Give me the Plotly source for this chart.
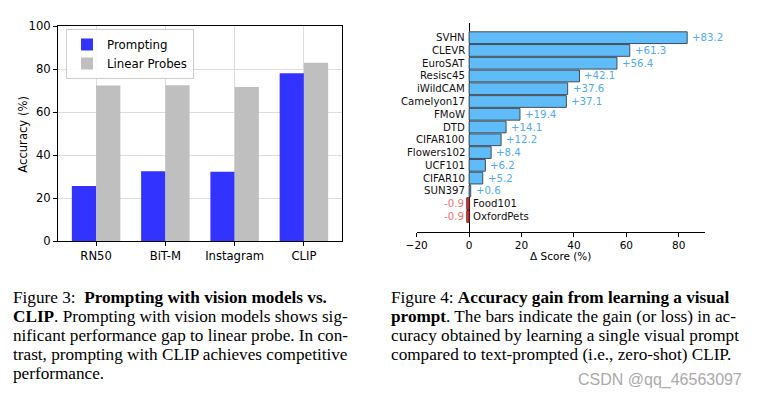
import plotly.graph_objects as go

# ---------------- data ----------------
models = ["RN50", "BiT-M", "Instagram", "CLIP"]
prompting = [25.6, 32.4, 32.2, 78.0]
linear_probes = [72.3, 72.4, 71.6, 82.9]

datasets = ["SVHN", "CLEVR", "EuroSAT", "Resisc45", "iWildCAM", "Camelyon17", "FMoW",
            "DTD", "CIFAR100", "Flowers102", "UCF101", "CIFAR10", "SUN397",
            "Food101", "OxfordPets"]
gains = [83.2, 61.3, 56.4, 42.1, 37.6, 37.1, 19.4, 14.1, 12.2, 8.4, 6.2, 5.2, 0.6, -0.9, -0.9]

left_tick_vals = [0, 20, 40, 60, 80, 100]
right_tick_vals = [-20, 0, 20, 40, 60, 80]

caption_left = [
    "Figure 3:  <b>Prompting with vision models vs.</b>",
    "<b>CLIP</b>. Prompting with vision models shows sig-",
    "nificant performance gap to linear probe. In con-",
    "trast, prompting with CLIP achieves competitive",
    "performance.",
]
caption_right = [
    "Figure 4: <b>Accuracy gain from learning a visual</b>",
    "<b>prompt</b>. The bars indicate the gain (or loss) in ac-",
    "curacy obtained by learning a single visual prompt",
    "compared to text-prompted (i.e., zero-shot) CLIP.",
]
watermark = "CSDN @qq_46563097"

# page body has an 8px default margin: the figure is drawn inside it
OFF = 8
W, H = 760 - 2 * OFF, 399 - 2 * OFF
SANS = "DejaVu Sans"
SERIF = "Liberation Serif"


def px(x):
    return (x - OFF) / W


def py(y):
    return 1 - (y - OFF) / H


fig = go.Figure()

# ---------------- left chart ----------------
xpos = list(range(len(models)))
fig.add_trace(go.Bar(x=xpos, y=prompting, name="Prompting", marker_color="#3333ff",
                     marker_line_width=0, xaxis="x", yaxis="y", offsetgroup="a"))
fig.add_trace(go.Bar(x=xpos, y=linear_probes, name="Linear Probes", marker_color="#bfbfbf",
                     marker_line_width=0, xaxis="x", yaxis="y", offsetgroup="b"))

# ---------------- right chart ----------------
n = len(datasets)
ypos = [n - 1 - i for i in range(n)]
fills = ["#60bcf8" if g >= 0 else "#e03a3a" for g in gains]
edges = ["#3e4c5a" if g >= 0 else "#7a2020" for g in gains]
fig.add_trace(go.Bar(x=gains, y=ypos, orientation="h", width=0.92,
                     marker=dict(color=fills, line=dict(color=edges, width=1)),
                     xaxis="x2", yaxis="y2", showlegend=False))

LBL = 10.2
annotations = []
for name, g, y in zip(datasets, gains, ypos):
    if g >= 0:
        annotations.append(dict(x=0, y=y, xref="x2", yref="y2", text=name, showarrow=False,
                                xanchor="right", yanchor="middle", xshift=-2,
                                font=dict(family=SANS, size=LBL, color="#111")))
        annotations.append(dict(x=g, y=y, xref="x2", yref="y2", text=f"+{g}", showarrow=False,
                                xanchor="left", yanchor="middle", xshift=3,
                                font=dict(family=SANS, size=LBL, color="#4fa9f5")))
    else:
        annotations.append(dict(x=0, y=y, xref="x2", yref="y2", text=name, showarrow=False,
                                xanchor="left", yanchor="middle", xshift=2,
                                font=dict(family=SANS, size=LBL, color="#111")))
        annotations.append(dict(x=g, y=y, xref="x2", yref="y2", text=f"{g}", showarrow=False,
                                xanchor="right", yanchor="middle", xshift=-1,
                                font=dict(family=SANS, size=LBL, color="#f07070")))

# axis titles
annotations.append(dict(x=px(22.7), y=py(134), xref="paper", yref="paper", text="Accuracy (%)",
                        showarrow=False, textangle=-90, xanchor="center", yanchor="middle",
                        font=dict(family=SANS, size=11.6, color="black")))
annotations.append(dict(x=px(560), y=py(256), xref="paper", yref="paper", text="Δ Score (%)",
                        showarrow=False, xanchor="center", yanchor="middle",
                        font=dict(family=SANS, size=10.5, color="black")))

# captions
line_y = [297, 316, 335, 354, 373]
for t, yy in zip(caption_left, line_y):
    annotations.append(dict(x=px(11), y=py(yy), xref="paper", yref="paper", text=t,
                            showarrow=False, xanchor="left", yanchor="middle",
                            font=dict(family=SERIF, size=17.2, color="black")))
for t, yy in zip(caption_right, line_y):
    annotations.append(dict(x=px(389), y=py(yy), xref="paper", yref="paper", text=t,
                            showarrow=False, xanchor="left", yanchor="middle",
                            font=dict(family=SERIF, size=17.2, color="black")))
annotations.append(dict(x=px(744), y=py(380), xref="paper", yref="paper", text=watermark,
                        showarrow=False, xanchor="right", yanchor="middle",
                        font=dict(family="Liberation Sans", size=16, color="#aaaaaa")))

fig.update_layout(
    width=W, height=H,
    margin=dict(l=0, r=0, t=0, b=0, autoexpand=False),
    paper_bgcolor="white", plot_bgcolor="white",
    barmode="group", bargap=0.3, bargroupgap=0,
    font=dict(family=SANS, size=12, color="black"),
    showlegend=True,
    legend=dict(x=px(66), y=py(29), xanchor="left", yanchor="top",
                bgcolor="rgba(255,255,255,0.9)", bordercolor="#cccccc", borderwidth=1,
                font=dict(family=SANS, size=11.8), itemwidth=30, tracegroupgap=0),
    xaxis=dict(domain=[px(58), px(342)], range=[-0.55, 3.55], tickvals=xpos, ticktext=models,
               showgrid=True, gridcolor="#dcdcdc", gridwidth=1, zeroline=False,
               showline=True, linecolor="black", linewidth=1, mirror=True,
               ticks="outside", ticklen=4, tickcolor="black", automargin=False,
               tickfont=dict(family=SANS, size=11.6), anchor="y"),
    yaxis=dict(domain=[py(241), py(26)], range=[0, 100], tickvals=left_tick_vals,
               showgrid=True, gridcolor="#dcdcdc", gridwidth=1, zeroline=False,
               showline=True, linecolor="black", linewidth=1, mirror=True,
               ticks="outside", ticklen=4, tickcolor="black", automargin=False,
               tickfont=dict(family=SANS, size=11.6), anchor="x"),
    xaxis2=dict(domain=[px(416.7), px(705)], range=[-20, 90], tickvals=right_tick_vals,
                showgrid=False, zeroline=True, zerolinecolor="black", zerolinewidth=1.3,
                showline=True, linecolor="black", linewidth=1,
                ticks="outside", ticklen=4, tickcolor="black", automargin=False,
                tickfont=dict(family=SANS, size=10.5), anchor="y2"),
    yaxis2=dict(domain=[py(231.7), py(23)], range=[-1.2, 15.15],
                showgrid=False, zeroline=False, showline=False, showticklabels=False,
                ticks="", automargin=False, anchor="x2"),
    annotations=annotations,
)

fig.write_html("out.html")
